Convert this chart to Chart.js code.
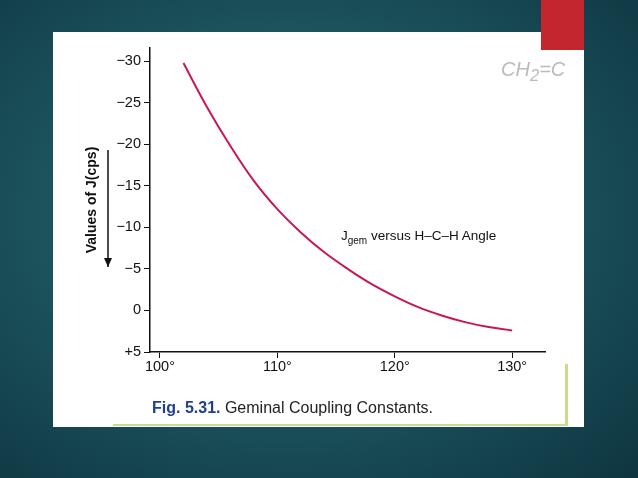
<!DOCTYPE html>
<html>
<head>
<meta charset="utf-8">
<script src="https://cdn.jsdelivr.net/npm/chart.js@4"></script>
<style>
  body { margin: 0; width: 638px; height: 478px; overflow: hidden;
         background: radial-gradient(ellipse at 45% 45%, #2f727b 0%, #1d5660 45%, #0e3540 100%);
         font-family: "Liberation Sans", Arial, sans-serif; }
  #panel { position: absolute; left: 53px; top: 32px; width: 531px; height: 395px; background: #fff; }
  #chartBox { position: absolute; left: 0; top: 0; width: 531px; height: 395px; }
  #redbox { position: absolute; left: 541px; top: 0; width: 43px; height: 50px; background: #c3262c; }
  #label { position: absolute; left: 288px; top: 196px; font-size: 13.5px; color: #111; }
  #label sub { font-size: 10px; }
  #caption { position: absolute; left: 99px; top: 367px; font-size: 16px; color: #222; }
  #caption b { color: #1f3f8f; }
  #hand { position: absolute; left: 448px; top: 26px; font-size: 20px; color: #bbb; font-style: italic; }
  #greenline { position: absolute; left: 60px; top: 392px; width: 455px; height: 2px; background: #c9dc8a; }
  #greenside { position: absolute; left: 512px; top: 332px; width: 3px; height: 62px; background: #c9dc8a; }
</style>
</head>
<body>
<div id="panel">
  <div id="chartBox"><canvas id="c" width="531" height="395"></canvas></div>
  <div id="hand">CH<sub>2</sub>=C</div>
  <div id="label">J<sub>gem</sub> versus H–C–H Angle</div>
  <div id="greenline"></div>
  <div id="greenside"></div>
  <div id="caption"><b>Fig. 5.31.</b> Geminal Coupling Constants.</div>
</div>
<div id="redbox"></div>
<script>
const angles = [102, 104, 106, 108, 110, 112, 114, 116, 118, 120, 122, 124, 126, 128, 130];
const jValues = [-29.8, -24.5, -19.8, -15.6, -12.2, -9.4, -7.0, -5.0, -3.2, -1.7, -0.4, 0.6, 1.4, 2.0, 2.4];
const xTicks = [100, 110, 120, 130];
const yTicks = [-30, -25, -20, -15, -10, -5, 0, 5];

const font = { family: '"Liberation Sans", Arial, sans-serif', size: 14.5 };

// arrow next to the y title, pointing down
const arrowPlugin = {
  id: 'arrow',
  afterDraw(chart) {
    const ctx = chart.ctx;
    ctx.save();
    ctx.strokeStyle = '#111';
    ctx.fillStyle = '#111';
    ctx.lineWidth = 1.5;
    const x = 55, y1 = 118, y2 = 235;
    ctx.beginPath(); ctx.moveTo(x, y1); ctx.lineTo(x, y2); ctx.stroke();
    ctx.beginPath(); ctx.moveTo(x - 4, y2 - 9); ctx.lineTo(x, y2); ctx.lineTo(x + 4, y2 - 9); ctx.closePath(); ctx.fill();
    ctx.restore();
  }
};

new Chart(document.getElementById('c'), {
  type: 'line',
  data: {
    datasets: [{
      data: angles.map((a, i) => ({ x: a, y: jValues[i] })),
      borderColor: '#c8194f',
      borderWidth: 2,
      pointRadius: 0,
      tension: 0.4,
      fill: false
    }]
  },
  options: {
    responsive: false,
    animation: false,
    devicePixelRatio: 1,
    layout: { padding: { top: 16, right: 39, left: 31, bottom: 0 } },
    plugins: { legend: { display: false }, tooltip: { enabled: false } },
    scales: {
      x: {
        type: 'linear', min: 99.15, max: 132.8,
        afterBuildTicks: s => { s.ticks = xTicks.map(v => ({ value: v })); },
        afterFit: s => { s.height = 75; },
        grid: { drawOnChartArea: false, tickLength: 6, color: '#111' },
        border: { color: '#111', width: 1.5 },
        ticks: { color: '#111', font, padding: 0, maxRotation: 0, callback: v => v + '°' }
      },
      y: {
        type: 'linear', min: -31.6, max: 5, reverse: true,
        afterBuildTicks: s => { s.ticks = yTicks.map(v => ({ value: v })); },
        afterFit: s => { s.width = 66; },
        grid: { drawOnChartArea: false, tickLength: 6, color: '#111' },
        border: { color: '#111', width: 1.5 },
        ticks: { color: '#111', font, padding: 3, callback: v => v > 0 ? '+' + v : (v < 0 ? '−' + (-v) : '0') },
        title: { display: true, text: 'Values of J(cps)', color: '#111', font: { family: font.family, size: 14, weight: 'bold' }, padding: { top: 0, bottom: 2 } }
      }
    }
  },
  plugins: [arrowPlugin]
});
</script>
</body>
</html>
